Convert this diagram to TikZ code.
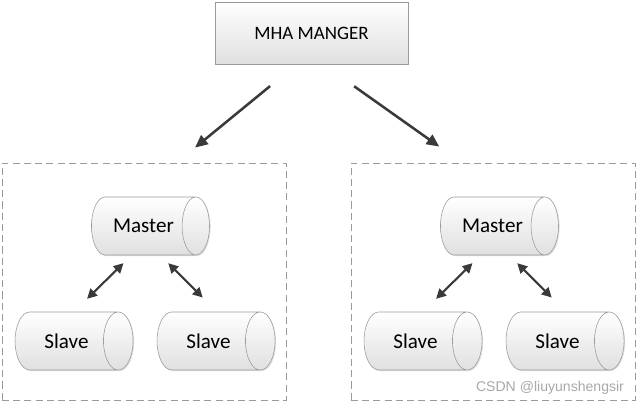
\documentclass[tikz,border=0pt]{standalone}
\usepackage{fontspec}
\setmainfont{Carlito}
\newfontfamily\wmfont{Liberation Sans}
\usetikzlibrary{arrows.meta, shapes.geometric, shadows}
\definecolor{mline}{HTML}{9A9A9A}
\definecolor{mdark}{HTML}{3A3A3A}
\definecolor{mshade}{HTML}{E0E0E0}
\definecolor{mwm}{HTML}{A8A8A8}
\tikzset{
  mgrbox/.style={draw=mline, top color=white, bottom color=mshade,
                 minimum width=4.82cm, minimum height=1.55cm, text=black,
                 font=\fontsize{13.5}{16}\selectfont,
                 drop shadow={shadow xshift=0.8pt, shadow yshift=-0.8pt, opacity=0.25}},
  dbbox/.style={cylinder, shape border rotate=0, aspect=2, draw=mline,
                top color=white, bottom color=mshade, inner sep=0pt,
                minimum width=1.45cm, minimum height=2.95cm, text=black,
                font=\fontsize{15}{18}\selectfont,
                drop shadow={shadow xshift=0.8pt, shadow yshift=-0.8pt, opacity=0.25}},
  grpbox/.style={draw=mline, dash pattern=on 5pt off 3pt, line width=0.6pt,
                 minimum width=7.1cm, minimum height=5.925cm},
  arr/.style={-{Triangle[length=9pt,width=8pt]}, line width=1.8pt, mdark},
  barr/.style={{Triangle[length=7pt,width=7pt]}-{Triangle[length=7pt,width=7pt]},
               line width=1.5pt, mdark},
}

\begin{document}
\begin{tikzpicture}[x=0.025cm, y=-0.025cm]
  \useasboundingbox (0,0) rectangle (640,405);

  %% Manager on top
  \node[mgrbox] (mgr) at (311.5,33) {MHA MANGER};

  %% Two replication groups
  \foreach \s/\dx in {L/0, R/349}{
    \node[grpbox] (grp\s) at (144+\dx,281.5) {};
    \node[dbbox] (m\s) at (143.5+\dx,226) {Master};
    \node[dbbox] (s\s1) at (66.5+\dx,341) {Slave};
    \node[dbbox] (s\s2) at (208.5+\dx,341) {Slave};
    % master <-> slaves
    \draw[barr, shorten <=0.28cm, shorten >=0.46cm]
      ([xshift=-0.3cm]m\s.south) -- ([xshift=0.185cm]s\s1.north);
    \draw[barr, shorten <=0.28cm, shorten >=0.5cm]
      ([xshift=0.42cm]m\s.south) -- ([xshift=0.21cm]s\s2.north);
  }

  %% Manager -> groups
  \draw[arr, shorten <=0.86cm, shorten >=0.59cm]
    ([xshift=-0.37cm]mgr.south) -- ([xshift=0.82cm]grpL.north);
  \draw[arr, shorten <=0.95cm, shorten >=0.69cm]
    ([xshift=0.29cm]mgr.south) -- ([xshift=-0.78cm]grpR.north);

  % watermark
  \node[font=\wmfont\fontsize{10}{12}\selectfont, text=mwm] (wm) at (550,388) {CSDN @liuyunshengsir};

\end{tikzpicture}
\end{document}
